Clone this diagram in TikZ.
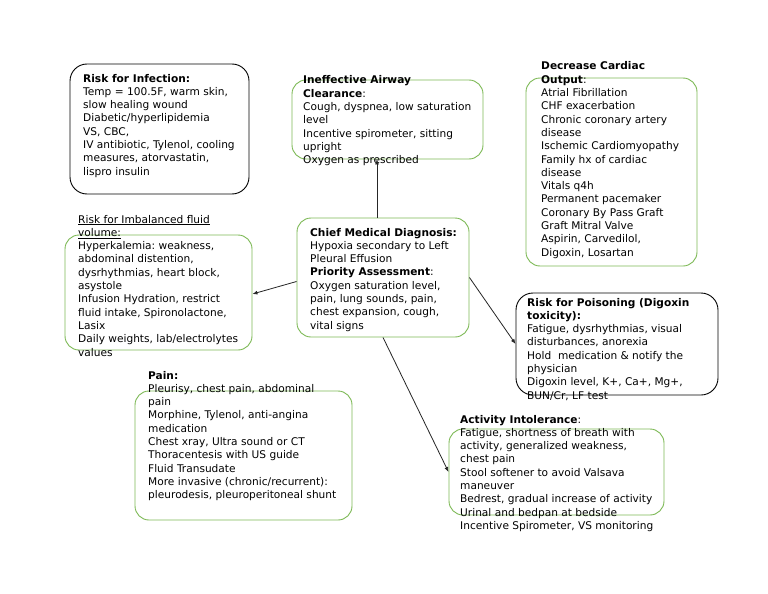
\documentclass[tikz,border=0pt]{standalone}
\usepackage{fontspec}
\setmainfont{DejaVu Sans}
\usetikzlibrary{arrows.meta}
\definecolor{boxgreen}{RGB}{125,185,85}
\frenchspacing
\newcommand{\boxlines}[1]{\begin{tabular}[t]{@{}l@{}}#1\end{tabular}}
\tikzset{
  greenbox/.style={draw=boxgreen, line width=0.9pt, rounded corners=14pt, inner sep=0pt},
  blackbox/.style={draw=black, line width=0.9pt, rounded corners=17pt, inner sep=0pt},
  boxtext/.style={anchor=base west, inner sep=0pt, font=\fontsize{10.6}{13.3}\selectfont},
  link/.style={draw=black!85, line width=0.8pt, -{Latex[length=5pt,width=4pt]}}
}
\begin{document}
\begin{tikzpicture}[x=1pt,y=-1pt]
\useasboundingbox (0,0) rectangle (768,594);
\fill [white] (0,0) rectangle (768,594);
\node [blackbox, minimum width=179pt, minimum height=130pt] (infection) at (159.5,129) {};
\node [greenbox, minimum width=191pt, minimum height=79pt] (airway) at (387.5,119.5) {};
\node [greenbox, minimum width=171pt, minimum height=188pt] (cardiac) at (611.5,172) {};
\node [greenbox, minimum width=187pt, minimum height=115pt] (fluid) at (158.5,292.5) {};
\node [greenbox, minimum width=172pt, minimum height=119pt] (chief) at (383,277.5) {};
\node [blackbox, minimum width=202pt, minimum height=102pt] (poison) at (617,344) {};
\node [greenbox, minimum width=217pt, minimum height=129pt] (pain) at (243.5,455.5) {};
\node [greenbox, minimum width=215pt, minimum height=86pt] (activity) at (556.5,472) {};

\node [boxtext] (infectiontext) at (83,82) {\boxlines{\textbf{Risk for Infection:}\\
Temp = 100.5F, warm skin,\\ slow healing wound\\ Diabetic/hyperlipidemia\\ VS, CBC,\\
IV antibiotic, Tylenol, cooling\\ measures, atorvastatin,\\ lispro insulin}};
\node [boxtext] (airwaytext) at (303,84) {\boxlines{\textbf{Ineffective Airway}\\ \textbf{Clearance}:\\
Cough, dyspnea, low saturation\\ level\\ Incentive spirometer, sitting\\ upright\\ Oxygen as prescribed}};
\node [boxtext] (cardiactext) at (541,70) {\boxlines{\textbf{Decrease Cardiac}\\ \textbf{Output}:\\
Atrial Fibrillation\\ CHF exacerbation\\ Chronic coronary artery\\ disease\\ Ischemic Cardiomyopathy\\
Family hx of cardiac\\ disease\\ Vitals q4h\\ Permanent pacemaker\\ Coronary By Pass Graft\\
Graft Mitral Valve\\ Aspirin, Carvedilol,\\ Digoxin, Losartan}};
\node [boxtext] (fluidtext) at (78,223) {\boxlines{\underline{Risk for Imbalanced fluid}\\ \underline{volume:}\\
Hyperkalemia: weakness,\\ abdominal distention,\\ dysrhythmias, heart block,\\ asystole\\
Infusion Hydration, restrict\\ fluid intake, Spironolactone,\\ Lasix\\ Daily weights, lab/electrolytes\\ values}};
\node [boxtext] (chieftext) at (310,236) {\boxlines{\textbf{Chief Medical Diagnosis:}\\
Hypoxia secondary to Left\\ Pleural Effusion\\ \textbf{Priority Assessment}:\\
Oxygen saturation level,\\ pain, lung sounds, pain,\\ chest expansion, cough,\\ vital signs}};
\node [boxtext] (poisontext) at (527,306) {\boxlines{\textbf{Risk for Poisoning (Digoxin}\\ \textbf{toxicity):}\\
Fatigue, dysrhythmias, visual\\ disturbances, anorexia\\ Hold\ \ medication \& notify the\\ physician\\
Digoxin level, K+, Ca+, Mg+,\\ BUN/Cr, LF test}};
\node [boxtext] (paintext) at (148,379) {\boxlines{\textbf{Pain:}\\
Pleurisy, chest pain, abdominal\\ pain\\ Morphine, Tylenol, anti-angina\\ medication\\
Chest xray, Ultra sound or CT\\ Thoracentesis with US guide\\ Fluid Transudate\\
More invasive (chronic/recurrent):\\ pleurodesis, pleuroperitoneal shunt}};
\node [boxtext] (activitytext) at (460,423) {\boxlines{\textbf{Activity Intolerance}:\\
Fatigue, shortness of breath with\\ activity, generalized weakness,\\ chest pain\\
Stool softener to avoid Valsava\\ maneuver\\ Bedrest, gradual increase of activity\\
Urinal and bedpan at bedside\\ Incentive Spirometer, VS monitoring}};

\draw [link] ([xshift=-6pt]chief.north) -- ([xshift=-10.5pt]airway.south);
\draw [link] ([yshift=-4pt]chief.west) -- ([yshift=-1.5pt]fluid.east);
\draw [link] (chief.east) -- (poison.west);
\draw [link] (chief.south) -- (activity.west);
\end{tikzpicture}
\end{document}
